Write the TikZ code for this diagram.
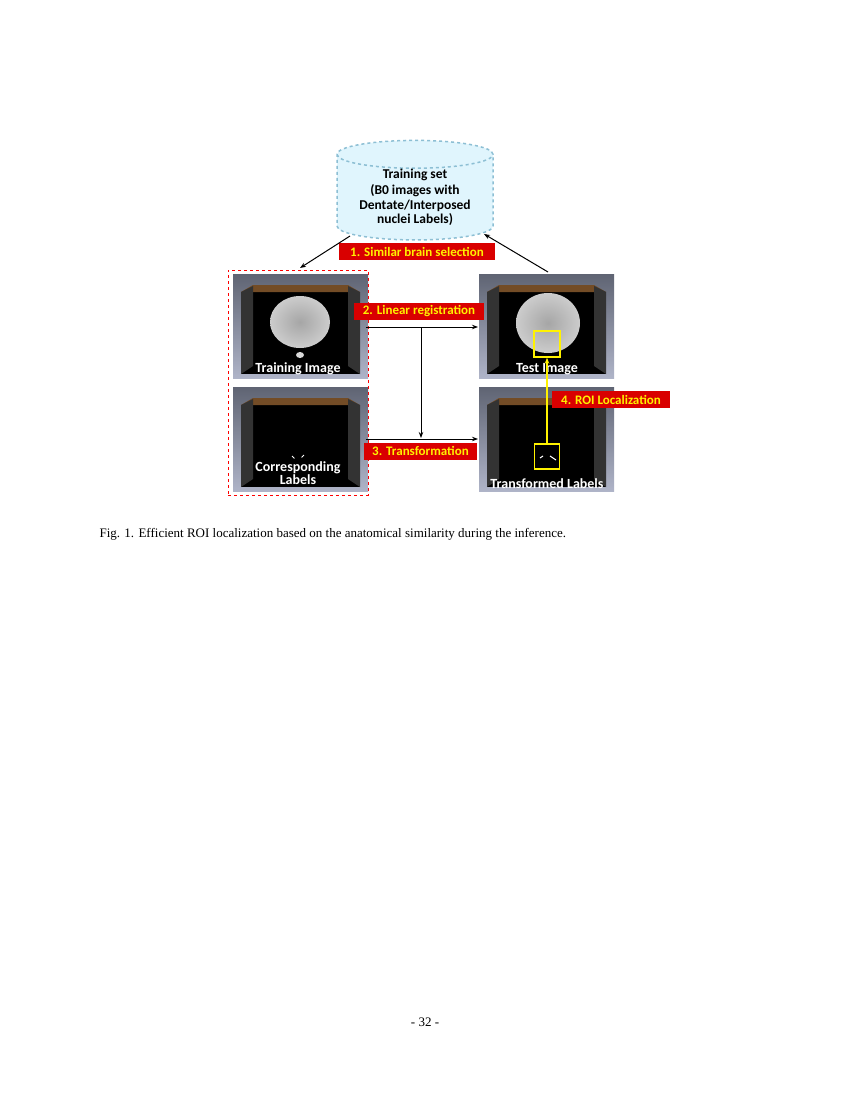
\documentclass[tikz,border=0pt]{standalone}
\usepackage{fontspec}
\setmainfont{Liberation Serif}
\newfontfamily\lab{Carlito}
\usetikzlibrary{shapes.geometric,arrows.meta}
\definecolor{pantop}{RGB}{95,100,115}
\definecolor{panbot}{RGB}{175,180,200}
\begin{document}
\begin{tikzpicture}[x=1pt,y=-1pt,
  lbl/.style={fill=red!85!black,text=yellow,font=\lab\bfseries\fontsize{13}{14}\selectfont,inner sep=1.5pt,minimum height=17pt},
  arr/.style={-{Stealth[length=6pt]},line width=1pt},
  pantext/.style={text=white,font=\lab\bfseries\fontsize{14}{14}\selectfont,align=center}]
\useasboundingbox (0,0) rectangle (850,1100);
% cylinder
\node[cylinder,shape border rotate=90,aspect=0.25,draw=cyan!50!gray!70,dashed,line width=1.5pt,fill=cyan!12,
  minimum width=156pt,minimum height=75pt,align=center,font=\lab\bfseries\fontsize{13.5}{14.5}\selectfont,inner sep=0pt] (db) at (415,197.5)
  {Training set\\[2pt](B0 images with\\Dentate/Interposed\\nuclei Labels)};
\node[lbl,minimum width=156pt] (l1) at (417,251.5) {1. Similar brain selection};
% panels
\foreach \n/\x/\y in {p1/233/274,p2/233/387,p3/479/274,p4/479/387}{
  \shade[top color=pantop,bottom color=panbot] (\x,\y) rectangle ++(135,104);
  \fill[black] (\x+8,\y+18) rectangle ++(119,82);
  \fill[brown!60!black] (\x+8,\y+18) -- ++(12,-7) -- ++(95,0) -- ++(12,7) -- cycle;
  \fill[black!80] (\x+8,\y+18) -- ++(12,-6) -- ++(0,80) -- ++(-12,8) -- cycle;
  \fill[black!80] (\x+127,\y+18) -- ++(-12,-6) -- ++(0,80) -- ++(12,8) -- cycle;
  \coordinate (\n) at (\x,\y);
}
\node[draw=red,dashed,line width=1pt,minimum width=140pt,minimum height=225pt,inner sep=0pt] (rb) at (298,382.5) {};
% brains
\shade[inner color=gray!70,outer color=gray!40] (300,322) ellipse (30 and 26);
\fill[white!70!gray] (300,355) ellipse (4 and 3);
\shade[inner color=gray!70,outer color=gray!40] (548,323) ellipse (32 and 30);
% label arcs
\draw[white,line width=1pt] (292,456) arc (160:110:4) (304,455) arc (20:70:4);
\draw[white,line width=1pt] (540,458) -- (543,456) (550,456) -- (556,460);
% panel texts
\node[pantext] (t1) at (298,369) {Training Image};
\node[pantext] (t2) at (298,473) {Corresponding\\[-1pt]Labels};
\node[pantext] (t3) at (547,369) {Test Image};
\node[pantext] (t4) at (547,484) {Transformed Labels};
% yellow boxes
\node[draw=yellow,line width=1.5pt,minimum size=26pt,inner sep=0pt] (y1) at (547,344) {};
\node[draw=yellow,line width=1.5pt,minimum size=25pt,inner sep=0pt] (y2) at (547,456.5) {};
\draw[arr,yellow,line width=1.5pt] (y2.north) -- (y1.south);
\node[lbl,minimum width=118pt] (l4) at (611,399.5) {4. ROI Localization};
% arrows
\coordinate (a1s) at (350,236); \coordinate (a1e) at (300,268);
\draw[arr] (a1s) -- (a1e);
\coordinate (a2s) at (548,272); \coordinate (a2e) at (484,234);
\draw[arr] (a2s) -- (a2e);
\coordinate (r1) at (366,327); \coordinate (r2) at (478,327);
\draw[arr] (r1) -- (r2);
\coordinate (r3) at (366,439); \coordinate (r4) at (478,439);
\draw[arr] (r3) -- (r4);
\coordinate (v1) at (421,327); \coordinate (v2) at (421,438);
\draw[arr] (v1) -- (v2);
\node[lbl,minimum width=130pt] (l2) at (419,311.5) {2. Linear registration};
\node[lbl,minimum width=113pt] (l3) at (420.5,451) {3. Transformation};
% caption
\node[anchor=west,font=\fontsize{13}{15}\selectfont] (cap) at (96,534) {Fig. 1. Efficient ROI localization based on the anatomical similarity during the inference.};
\node[font=\fontsize{13}{15}\selectfont] (pg) at (425,1022) {- 32 -};
\end{tikzpicture}
\end{document}
